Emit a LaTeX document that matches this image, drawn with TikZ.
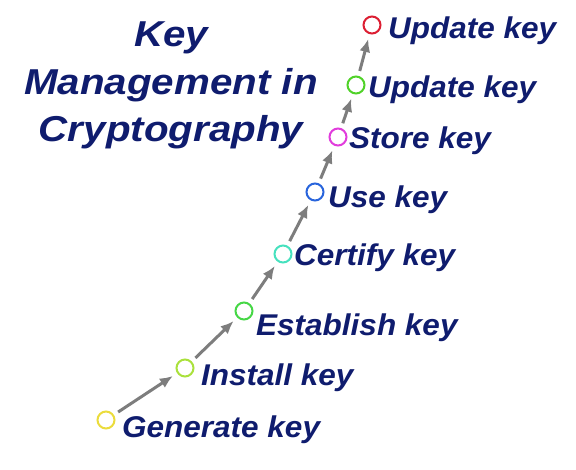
\documentclass[tikz,border=0pt]{standalone}
\usepackage{fontspec}
\setmainfont{Liberation Sans}
\newfontfamily\titlefont[FakeStretch=1.12]{Liberation Sans}
\newfontfamily\stepfont[FakeStretch=1.05]{Liberation Sans}
\usetikzlibrary{arrows.meta}
\definecolor{navy}{RGB}{15,28,110}
\definecolor{arrowgray}{RGB}{125,125,125}
\definecolor{cyellow}{RGB}{235,220,60}
\definecolor{clime}{RGB}{170,225,60}
\definecolor{cgreen}{RGB}{70,215,70}
\definecolor{caqua}{RGB}{70,225,190}
\definecolor{cblue}{RGB}{40,100,220}
\definecolor{cmagenta}{RGB}{225,60,220}
\definecolor{cgreentwo}{RGB}{80,210,40}
\definecolor{cred}{RGB}{220,30,50}

\begin{document}
\begin{tikzpicture}[x=1pt,y=-1pt,
    dot/.style={circle,draw=#1,line width=2pt,minimum size=17pt,inner sep=0pt},
    txt/.style={anchor=base west,inner sep=0pt,text=navy,
        font=\stepfont\bfseries\itshape\fontsize{30}{36}\selectfont},
    arr/.style={draw=arrowgray,line width=3pt,-{Latex[length=13pt,width=11pt]},
        shorten <=5pt,shorten >=5pt}]
            \useasboundingbox (0,0) rectangle (576,469);
            \node[anchor=north,align=center,inner sep=0pt,text=navy,
                font=\titlefont\bfseries\itshape\fontsize{36}{47.5}\selectfont]
                (title) at (171,22) {Key\\Management in\\Cryptography};
            % the steps, bottom to top
            \node[dot=cyellow] (c1) at (106,420) {};
            \node[dot=clime] (c2) at (185,368) {};
            \node[dot=cgreen] (c3) at (244,311) {};
            \node[dot=caqua] (c4) at (283,254) {};
            \node[dot=cblue] (c5) at (315,192) {};
            \node[dot=cmagenta] (c6) at (338,137) {};
            \node[dot=cgreentwo] (c7) at (356,85) {};
            \node[dot=cred] (c8) at (372,25) {};
            \node[txt] (t1) at (122,437) {Generate key};
            \node[txt] (t2) at (201,385) {Install key};
            \node[txt] (t3) at (256,335) {Establish key};
            \node[txt] (t4) at (294,265) {Certify key};
            \node[txt] (t5) at (328,207) {Use key};
            \node[txt] (t6) at (349,148) {Store key};
            \node[txt] (t7) at (368,97) {Update key};
            \node[txt] (t8) at (388,38) {Update key};
            \foreach \a/\b in {c1/c2,c2/c3,c3/c4,c4/c5,c5/c6,c6/c7,c7/c8}
                \draw[arr] (\a) -- (\b);
\end{tikzpicture}
\end{document}
